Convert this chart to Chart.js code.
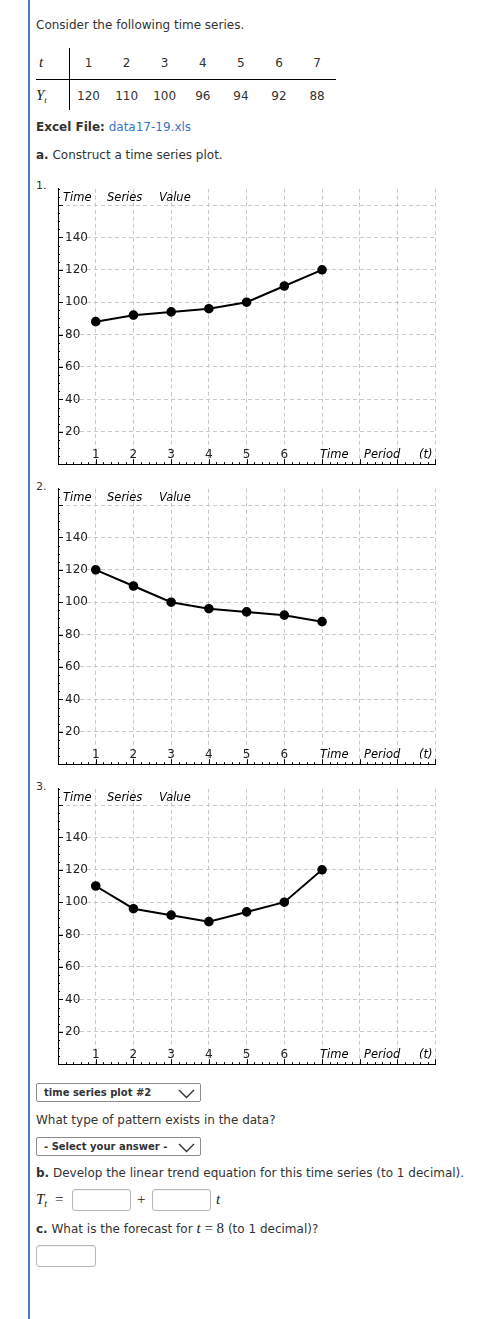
<!DOCTYPE html>
<html>
<head>
<meta charset="utf-8">
<script src="https://cdn.jsdelivr.net/npm/chart.js@4.4.1/dist/chart.umd.min.js"></script>
<style>
  html, body { margin: 0; padding: 0; background: #fff; }
  body { position: relative; width: 480px; height: 1319px; overflow: hidden;
         font-family: "DejaVu Sans", Verdana, sans-serif; font-size: 12px; color: #333; }
  .bar { position: absolute; left: 28px; top: 0; width: 2px; height: 1319px; background: #4d77c8; }
  .txt { position: absolute; white-space: nowrap; line-height: 14px; }
  .math { font-family: "Liberation Serif", "DejaVu Serif", serif; font-style: italic; font-size: 15px; color: #222; }
  .mathr { font-family: "Liberation Serif", "DejaVu Serif", serif; font-size: 15px; color: #222; }
  .cell { position: absolute; width: 36px; text-align: center; line-height: 14px; }
  .hline { position: absolute; background: #000; }
  .link { color: #3a74c6; }
  .plot { position: absolute; left: 50px; width: 391px; height: 287px; }
  .sel { position: absolute; left: 36px; width: 163px; height: 17px; border: 1px solid #8c8c8c;
         border-radius: 2px; background: #fff; }
  .sel span { position: absolute; left: 7px; top: 2px; font-size: 10px; font-weight: bold; color: #333; line-height: 13px; }
  .sel svg { position: absolute; top: 5px; }
  .box { position: absolute; border: 1px solid #b8b8b8; border-radius: 3px; background: #fff;
         box-shadow: inset 0 1px 1px rgba(0,0,0,0.06); }
</style>
</head>
<body>
<div class="bar"></div>

<div class="txt" style="left:36px;top:18px">Consider the following time series.</div>

<div id="table"></div>

<div class="txt" style="left:36px;top:120px"><b>Excel File:</b> <span class="link">data17-19.xls</span></div>
<div class="txt" style="left:36px;top:148px"><b>a.</b> Construct a time series plot.</div>

<div class="txt" style="left:36px;top:179px;font-size:11px">1.</div>
<div class="plot" style="top:183px"><canvas id="plot1"></canvas></div>
<div class="txt" style="left:36px;top:480px;font-size:11px">2.</div>
<div class="plot" style="top:483px"><canvas id="plot2"></canvas></div>
<div class="txt" style="left:36px;top:780px;font-size:11px">3.</div>
<div class="plot" style="top:783px"><canvas id="plot3"></canvas></div>

<div class="sel" style="top:1083px"><span>time series plot #2</span>
  <svg style="left:141px" width="17" height="10"><polyline points="1,1 8.5,8.5 16,1" fill="none" stroke="#333" stroke-width="1.4"/></svg></div>
<div class="txt" style="left:36px;top:1113px">What type of pattern exists in the data?</div>
<div class="sel" style="top:1137px"><span>- Select your answer -</span>
  <svg style="left:141px" width="17" height="10"><polyline points="1,1 8.5,8.5 16,1" fill="none" stroke="#333" stroke-width="1.4"/></svg></div>
<div class="txt" style="left:36px;top:1166px"><b>b.</b> Develop the linear trend equation for this time series (to 1 decimal).</div>

<div class="txt" style="left:36px;top:1192px"><span class="math">T</span><span class="math" style="font-size:10px;position:relative;top:3px">t</span></div>
<div class="txt mathr" style="left:55px;top:1192px">=</div>
<div class="box" style="left:72px;top:1189px;width:57px;height:20px"></div>
<div class="txt mathr" style="left:137px;top:1192px">+</div>
<div class="box" style="left:152px;top:1189px;width:57px;height:20px"></div>
<div class="txt math" style="left:216px;top:1192px">t</div>

<div class="txt" style="left:36px;top:1221px"><b>c.</b> What is the forecast for <span class="math">t</span> <span class="mathr">= 8</span> (to 1 decimal)?</div>
<div class="box" style="left:36px;top:1245px;width:58px;height:20px"></div>

<script>
// table values
const periods = [1, 2, 3, 4, 5, 6, 7];
const seriesValues = [120, 110, 100, 96, 94, 92, 88];

// the three candidate plots
const plot1Values = [88, 92, 94, 96, 100, 110, 120];
const plot2Values = [120, 110, 100, 96, 94, 92, 88];
const plot3Values = [110, 96, 92, 88, 94, 100, 120];

// axis ticks
const xTickLabels = [1, 2, 3, 4, 5, 6];
const yTickLabels = [20, 40, 60, 80, 100, 120, 140];
const xMax = 10;
const yMax = 170;

// build the small data table
function buildTable() {
    const el = document.getElementById("table");
    let html = '<div class="txt math" style="left:39px;top:55px">t</div>';
    html += '<div class="txt" style="left:36px;top:88px"><span class="math">Y</span><span class="math" style="font-size:9px;position:relative;top:3px">t</span></div>';
    html += '<div class="hline" style="left:69px;top:48px;width:1px;height:62px"></div>';
    html += '<div class="hline" style="left:36px;top:79px;width:300px;height:1px"></div>';
    periods.forEach((t, i) => {
        const cx = 88.5 + i * 38.1;
        html += `<div class="cell" style="left:${cx - 18}px;top:56px">${t}</div>`;
        html += `<div class="cell" style="left:${cx - 18}px;top:89px">${seriesValues[i]}</div>`;
    });
    el.innerHTML = html;
}
buildTable();

// no room reserved for axes: labels sit inside the plot
function noRoom(s) {
    if (s.isHorizontal()) s.height = 0; else s.width = 0;
    s.paddingLeft = s.paddingRight = s.paddingTop = s.paddingBottom = 0;
}

// small tick marks inside the axes + the axis titles
const axisDecor = {
    id: 'axisDecor',
    afterDraw(chart) {
        const { ctx, chartArea: a, scales: { x, y } } = chart;
        ctx.save();
        ctx.strokeStyle = '#000';
        ctx.lineWidth = 1;
        ctx.beginPath();
        for (let v = 0; v <= yMax; v += 5) {
            const py = Math.round(y.getPixelForValue(v)) + 0.5;
            ctx.moveTo(a.left, py);
            ctx.lineTo(a.left + (v % 20 === 0 ? 5 : 2), py);
        }
        for (let i = 0; i <= xMax * 5; i++) {
            const px = Math.round(x.getPixelForValue(i / 5)) + 0.5;
            ctx.moveTo(px, a.bottom);
            ctx.lineTo(px, a.bottom - (i % 5 === 0 ? 5 : 2));
        }
        ctx.stroke();

        ctx.fillStyle = '#000';
        ctx.font = 'italic 11.5px "DejaVu Sans"';
        ctx.textBaseline = 'middle';
        ctx.textAlign = 'left';
        ctx.fillText('Time', a.left + 5, a.top + 9);
        ctx.fillText('Series', a.left + 49, a.top + 9);
        ctx.fillText('Value', a.left + 101, a.top + 9);
        ctx.fillText('Time', a.left + 262, a.bottom - 9);
        ctx.fillText('Period', a.left + 306, a.bottom - 9);
        ctx.fillText('(t)', a.left + 361, a.bottom - 9);
        ctx.restore();
    }
};

function createPlot(canvasId, values) {
    new Chart(document.getElementById(canvasId), {
        type: 'scatter',
        data: {
            datasets: [{
                data: periods.map((t, i) => ({ x: t, y: values[i] })),
                showLine: true,
                borderColor: '#000',
                backgroundColor: '#000',
                borderWidth: 2,
                pointRadius: 3.8,
                pointHoverRadius: 3.8
            }]
        },
        options: {
            responsive: true,
            maintainAspectRatio: false,
            animation: false,
            layout: { padding: { left: 8, right: 4, top: 4, bottom: 4 } },
            plugins: { legend: { display: false }, tooltip: { enabled: false } },
            scales: {
                x: {
                    type: 'linear',
                    min: 0,
                    max: xMax,
                    afterFit: noRoom,
                    grid: { color: '#c8c8c8', lineWidth: 1, drawTicks: false },
                    border: { display: true, color: '#000', width: 1, dash: [4, 3] },
                    ticks: {
                        stepSize: 1,
                        mirror: true,
                        padding: 2,
                        maxRotation: 0,
                        autoSkip: false,
                        color: '#222',
                        font: { family: 'DejaVu Sans', size: 12 },
                        callback: v => xTickLabels.includes(v) ? String(v) : ''
                    }
                },
                y: {
                    min: 0,
                    max: yMax,
                    afterFit: noRoom,
                    afterBuildTicks: s => { s.ticks = s.ticks.filter(t => t.value % 20 === 0); },
                    grid: { color: '#c8c8c8', lineWidth: 1, drawTicks: false },
                    border: { display: true, color: '#000', width: 1, dash: [4, 3] },
                    ticks: {
                        stepSize: 20,
                        mirror: true,
                        padding: 7,
                        autoSkip: false,
                        color: '#222',
                        font: { family: 'DejaVu Sans', size: 12 },
                        callback: v => yTickLabels.includes(v) ? String(v) : ''
                    }
                }
            }
        },
        plugins: [axisDecor]
    });
}

createPlot('plot1', plot1Values);
createPlot('plot2', plot2Values);
createPlot('plot3', plot3Values);
</script>
</body>
</html>
